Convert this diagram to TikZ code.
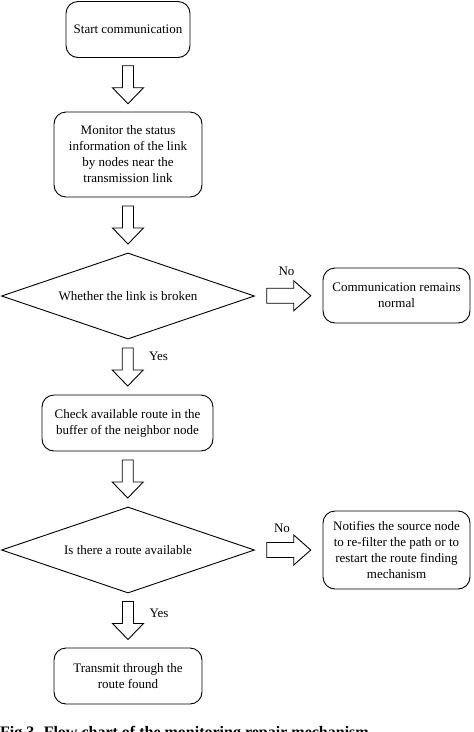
\documentclass[tikz,border=0pt]{standalone}
\usepackage{fontspec}
\setmainfont{Liberation Serif}
\usetikzlibrary{shapes.geometric,calc}
\begin{document}
\begin{tikzpicture}[x=1pt,y=-1pt,
  every node/.style={font=\fontsize{13}{16}\selectfont},
  rbox/.style={draw,line width=0.9pt,rounded corners=12pt,align=center,inner sep=2pt},
  dec/.style={draw,line width=0.9pt,shape=diamond,aspect=2.94,minimum width=253pt,minimum height=86pt,inner sep=0pt},
  blk/.style={draw,line width=0.9pt,fill=white,line join=miter},
  lbl/.style={inner sep=0pt},
  pics/darrow/.style={code={\draw[blk] (-5.5,0) -- (5.5,0) -- (5.5,22) -- (15.5,22) -- (0,38) -- (-15.5,22) -- (-5.5,22) -- cycle;}},
  pics/rarrow/.style={code={\draw[blk] (0,-7.5) -- (27,-7.5) -- (27,-15) -- (44,0) -- (27,15) -- (27,7.5) -- (0,7.5) -- cycle;}}
]
\useasboundingbox (0,0) rectangle (474,732);
\fill[white] (0,0) rectangle (474,732);

\node[rbox,minimum width=124pt,minimum height=56pt] (b1) at (128,29.5) {Start communication};
\node[rbox,minimum width=148pt,minimum height=85pt] (b2) at (128,154.5) {Monitor the status\\information of the link\\by nodes near the\\transmission link};
\node[dec] (d1) at (128,296) {Whether the link is broken};
\node[rbox,minimum width=147pt,minimum height=55pt] (r1) at (396.5,295.5) {Communication remains\\normal};
\node[rbox,minimum width=171pt,minimum height=56pt] (b3) at (127.5,423) {Check available route in the\\buffer of the neighbor node};
\node[dec] (d2) at (128,550) {Is there a route available};
\node[rbox,minimum width=147pt,minimum height=78pt] (r2) at (396.5,550) {Notifies the source node\\to re-filter the path or to\\restart the route finding\\mechanism};
\node[rbox,minimum width=148pt,minimum height=56pt] (b4) at (128,676) {Transmit through the\\route found};

\pic at ($(b1.south)!0.5!(b2.north)+(0,-19)$) {darrow};
\pic at ($(b2.south)!0.5!(d1.north)+(0,-19)$) {darrow};
\pic at ($(d1.south)!0.5!(b3.north)+(0,-19)$) {darrow};
\pic at ($(b3.south)!0.5!(d2.north)+(0,-19)$) {darrow};
\pic at ($(d2.south)!0.5!(b4.north)+(0,-19)$) {darrow};
\pic at ($(d1.east)!0.5!(r1.west)+(-22,0)$) {rarrow};
\pic at ($(d2.east)!0.5!(r2.west)+(-22,0)$) {rarrow};

\node[lbl] (no1) at (286.5,271) {No};
\node[lbl] (no2) at (282,528) {No};
\node[lbl] (yes1) at (158.5,356) {Yes};
\node[lbl] (yes2) at (159,613) {Yes};

\node[anchor=base west,inner sep=0pt,font=\fontsize{16}{19}\selectfont\bfseries] (cap) at (0,737) {Fig.3. Flow chart of the monitoring repair mechanism};
\end{tikzpicture}
\end{document}
